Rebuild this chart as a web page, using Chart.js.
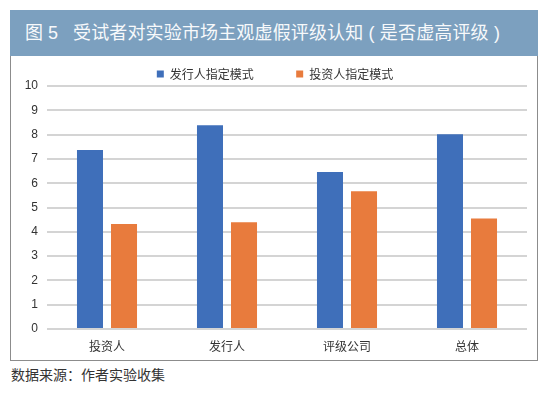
<!DOCTYPE html>
<html>
<head>
<meta charset="utf-8">
<script src="https://cdn.jsdelivr.net/npm/chart.js@4"></script>
<style>
  html, body { margin: 0; padding: 0; background: #fff; }
  body { width: 550px; height: 395px; position: relative; overflow: hidden;
         font-family: 'Liberation Sans', 'Noto Sans CJK SC', sans-serif; }
  #title { position: absolute; left: 10px; top: 10px; width: 528px; height: 46px;
           background: #7ca0bf; color: #f7f9fb; font-size: 18px; line-height: 46px;
           white-space: pre; font-family: 'Liberation Sans', 'Noto Sans CJK SC', sans-serif; }
  #title .n { position: absolute; left: 15px; }
  #title .t { position: absolute; left: 63px; letter-spacing: 0.15px; }
  #frame { position: absolute; left: 10px; top: 56px; width: 526px; height: 304px;
           border: 1px solid #8c8c8c; border-top: none; }
  #source { position: absolute; left: 11px; top: 364px; font-size: 14px; color: #333;
            font-family: 'Noto Sans CJK SC', sans-serif; }
</style>
</head>
<body>
<div id="title"><span class="n">图 5</span><span class="t">受试者对实验市场主观虚假评级认知 ( 是否虚高评级 )</span></div>
<div id="frame"><canvas id="c" width="526" height="304"></canvas></div>
<div id="source">数据来源：作者实验收集</div>
<script>
const categories = ['投资人', '发行人', '评级公司', '总体'];
const seriesNames = ['发行人指定模式', '投资人指定模式'];
const issuerMode = [7.37, 8.38, 6.46, 8.01];
const investorMode = [4.32, 4.39, 5.67, 4.55];
const yTicks = [0, 1, 2, 3, 4, 5, 6, 7, 8, 9, 10];

Chart.defaults.font.family = "'Liberation Sans', 'Noto Sans CJK SC', sans-serif";
Chart.defaults.font.size = 12;
Chart.defaults.color = '#333';

const legendFix = {
  id: 'legendFix',
  beforeLayout(chart) {
    const lg = chart.legend;
    if (lg && !lg._fixed) {
      const f = lg.fit.bind(lg);
      lg.fit = function () { f(); this.height = 30; };
      const d = lg.draw.bind(lg);
      lg.draw = function () {
        const ctx = this.ctx;
        ctx.save(); ctx.translate(6, 0); d(); ctx.restore();
      };
      lg._fixed = true;
    }
  }
};

new Chart(document.getElementById('c'), {
  type: 'bar',
  data: {
    labels: categories,
    datasets: [
      { label: seriesNames[0], data: issuerMode, backgroundColor: '#3f6fba', borderWidth: 0,
        categoryPercentage: 0.567, barPercentage: 0.765 },
      { label: seriesNames[1], data: investorMode, backgroundColor: '#e87b3d', borderWidth: 0,
        categoryPercentage: 0.567, barPercentage: 0.765 }
    ]
  },
  options: {
    responsive: false,
    animation: false,
    layout: { padding: { left: 0, right: 10, top: 0, bottom: 0 } },
    plugins: {
      tooltip: { enabled: false },
      legend: {
        position: 'top',
        onClick: null,
        labels: {
          boxWidth: 7, boxHeight: 7, padding: 12, color: '#333',
          font: { size: 12, family: "'Noto Sans CJK SC', sans-serif" },
          generateLabels(chart) {
            const items = Chart.defaults.plugins.legend.labels.generateLabels(chart);
            return [items[0],
              { text: '  ', fillStyle: 'rgba(0,0,0,0)', strokeStyle: 'rgba(0,0,0,0)', lineWidth: 0, hidden: false, datasetIndex: -1 },
              items[1]];
          }
        }
      }
    },
    scales: {
      x: {
        grid: { display: false, drawTicks: false },
        border: { display: false },
        ticks: { padding: 10, color: '#333', font: { size: 12, family: "'Noto Sans CJK SC', sans-serif" } },
        afterFit(scale) { scale.height = 31; }
      },
      y: {
        min: yTicks[0], max: yTicks[yTicks.length - 1],
        afterBuildTicks(scale) { scale.ticks = yTicks.map(v => ({ value: v })); },
        grid: { color: '#d4d4d4', lineWidth: 2, drawTicks: false },
        border: { display: false },
        ticks: { padding: 9, color: '#333', font: { size: 12 } },
        afterFit(scale) { scale.width = 36; }
      }
    }
  },
  plugins: [legendFix]
});
</script>
</body>
</html>
